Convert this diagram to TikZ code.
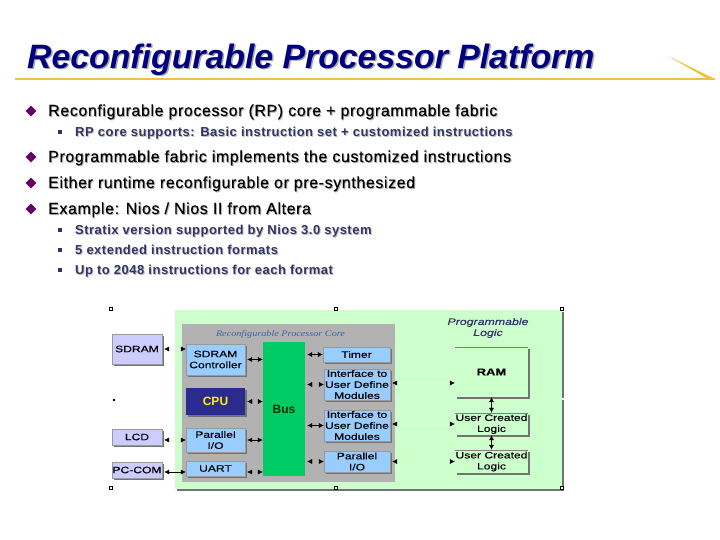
\documentclass[tikz,border=0pt]{standalone}
\usepackage{fontspec}
\setmainfont{Liberation Sans}
\newfontfamily\wideface[FakeStretch=1.3,FakeBold=0.25]{Liberation Sans}
\newfontfamily\coreface[FakeStretch=1.2]{Liberation Serif}
\newfontfamily\mainface[LetterSpace=3.7,FakeBold=0.25]{Liberation Sans}
\newfontfamily\subface[LetterSpace=3.8]{Liberation Sans}
\usetikzlibrary{arrows.meta,shapes.geometric,shadows}
\tikzset{every shadow/.style={fill=black!55,opacity=1,shadow xshift=2pt,shadow yshift=-2pt}}
\definecolor{darkblue}{HTML}{000080}
\definecolor{subblue}{HTML}{333366}
\definecolor{plum}{HTML}{660066}
\definecolor{gold}{HTML}{F0C040}
\definecolor{palegreen}{HTML}{CCFFCC}
\definecolor{skybox}{HTML}{99CCFF}
\definecolor{lavbox}{HTML}{CCCCFF}
\definecolor{corefill}{HTML}{B2B2B2}
\definecolor{busgreen}{HTML}{00CC66}
\definecolor{cpublue}{HTML}{2B2B8F}
\definecolor{corelabelblue}{HTML}{4060A0}
\newcommand{\Stitle}[1]{\rlap{\kern1.5pt\raisebox{-1.5pt}{\textcolor{black!35}{#1}}}\textcolor{darkblue}{#1}}
\newcommand{\Smain}[1]{\rlap{\kern1pt\raisebox{-1pt}{\textcolor{black!30}{#1}}}\textcolor{black}{#1}}
\newcommand{\Ssub}[1]{\rlap{\kern1pt\raisebox{-1pt}{\textcolor{black!25}{#1}}}\textcolor{subblue}{#1}}
\tikzset{
  box/.style={rectangle,draw=none,inner sep=0pt,align=center,drop shadow,
    font=\wideface\fontsize{9.3}{11}\selectfont},
  hardbox/.style={box,fill=lavbox,draw=black!40,line width=0.3pt},
  corebox/.style={box,fill=skybox,draw=black!40,line width=0.3pt},
  logicbox/.style={box,fill=palegreen},
  bigdot/.style={diamond,fill=plum,draw=none,inner sep=0pt,minimum size=11pt},
  smalldot/.style={rectangle,fill=subblue,draw=none,inner sep=0pt,minimum size=4pt},
  mainline/.style={anchor=base west,inner sep=0pt,font=\mainface\fontsize{16}{18}\selectfont},
  subline/.style={anchor=base west,inner sep=0pt,font=\subface\bfseries\fontsize{13}{15}\selectfont},
  handle/.style={rectangle,draw=black,fill=white,line width=0.8pt,inner sep=0pt,minimum width=3.5pt,minimum height=2.5pt},
  tips/.style={{Latex[black,length=5pt,width=5pt]}-{Latex[black,length=5pt,width=5pt]}},
  corefaint/.style={draw=corefill,line width=0.4pt,tips,shorten <=2pt},
  edgefaint/.style={draw=palegreen!70!white,line width=0.4pt,tips,shorten <=2pt},
  solid link/.style={draw=black,line width=0.6pt,tips,shorten <=2pt},
}
\begin{document}
\begin{tikzpicture}[x=1pt,y=-1pt]
\useasboundingbox (0,0) rectangle (720,540);
% title and rule
\node (title) [anchor=base west,inner sep=0pt,font=\bfseries\itshape\fontsize{33.8}{36}\selectfont] at (27,68.5) {\Stitle{Reconfigurable Processor Platform}};
\coordinate (rule1) at (15,79);
\coordinate (rule2) at (715,79);
\coordinate (tip1) at (668,56);
\path (rule1) edge[draw=gold,line width=1.2pt] (rule2);
\fill[gold] (tip1) -- (rule2) -- (708,79) -- cycle;
% bullets
\node (b1) [bigdot] at (31,111) {};
\node (t1) [mainline] at (48,116) {\Smain{Reconfigurable processor (RP) core + programmable fabric}};
\node (b1a) [smalldot] at (59.5,132) {};
\node (t1a) [subline] at (75,136.5) {\Ssub{RP core supports: Basic instruction set + customized instructions}};
\node (b2) [bigdot] at (31,157) {};
\node (t2) [mainline] at (48,162) {\Smain{Programmable fabric implements the customized instructions}};
\node (b3) [bigdot] at (31,183) {};
\node (t3) [mainline] at (48,188) {\Smain{Either runtime reconfigurable or pre-synthesized}};
\node (b4) [bigdot] at (31,209) {};
\node (t4) [mainline] at (48,214) {\Smain{Example: Nios / Nios II from Altera}};
\node (b4a) [smalldot] at (59.5,230) {};
\node (t4a) [subline] at (75,234.5) {\Ssub{Stratix version supported by Nios 3.0 system}};
\node (b4b) [smalldot] at (59.5,250) {};
\node (t4b) [subline] at (75,254.5) {\Ssub{5 extended instruction formats}};
\node (b4c) [smalldot] at (59.5,270) {};
\node (t4c) [subline] at (75,274.5) {\Ssub{Up to 2048 instructions for each format}};
% background panels
\node (fabric) [rectangle,fill=palegreen,draw=none,inner sep=0pt,minimum width=387,minimum height=179,drop shadow] at (368.5,399.5) {};
\node (core) [rectangle,fill=corefill,draw=none,inner sep=0pt,minimum width=213,minimum height=158] at (288.5,403) {};
\node (corelabel) [inner sep=0pt,text=corelabelblue,font=\coreface\itshape\fontsize{8.5}{10}\selectfont] at (280.5,334.5) {Reconfigurable Processor Core};
\node (fabriclabel) [inner sep=0pt,align=center,text=subblue,font=\wideface\itshape\fontsize{9.5}{11}\selectfont] at (488,328) {Programmable\\Logic};
% selection handles
\node (h1) [handle] at (111,309) {};
\node (h2) [handle] at (336,309) {};
\node (h3) [handle] at (562,309) {};
\node (h4) [handle] at (111,488) {};
\node (h5) [handle] at (336,488) {};
\node (h6) [handle] at (562,488) {};
\node (h7) [rectangle,fill=black,inner sep=0pt,minimum size=1.5pt] at (114,400) {};
\node (h8) [rectangle,fill=white,inner sep=0pt,minimum size=2.5pt] at (563,399) {};
% outside devices
\node (sdram) [hardbox,minimum width=50,minimum height=30] at (137,349) {SDRAM};
\node (lcd) [hardbox,minimum width=50,minimum height=16] at (137,437) {LCD};
\node (pccom) [hardbox,minimum width=50,minimum height=16] at (137,470) {PC-COM};
% core blocks
\node (ctrl) [corebox,minimum width=59,minimum height=31] at (215.5,359.5) {SDRAM\\Controller};
\node (cpu) [box,fill=cpublue,text=yellow,minimum width=59,minimum height=27,font=\bfseries\fontsize{12}{14}\selectfont] at (215.5,401.5) {CPU};
\node (pio) [corebox,minimum width=59,minimum height=24] at (215.5,440) {Parallel\\I/O};
\node (uart) [corebox,minimum width=59,minimum height=15] at (215.5,468.5) {UART};
\node (bus) [rectangle,fill=busgreen,draw=none,inner sep=0pt,minimum width=42,minimum height=134,text=black!80!green,font=\bfseries\fontsize{12}{14}\selectfont] at (284,409) {Bus};
\node (timer) [corebox,minimum width=67,minimum height=15] at (356.5,354.5) {Timer};
\node (iface1) [corebox,minimum width=66,minimum height=31] at (357,384.5) {Interface to\\User Define\\Modules};
\node (iface2) [corebox,minimum width=66,minimum height=31] at (357,425.5) {Interface to\\User Define\\Modules};
\node (pio2) [corebox,minimum width=66,minimum height=21] at (357,461.5) {Parallel\\I/O};
% fabric blocks
\node (ram) [logicbox,minimum width=73,minimum height=50,font=\wideface\bfseries\fontsize{10}{12}\selectfont] at (491.5,372) {RAM};
\node (ucl1) [logicbox,minimum width=73,minimum height=22] at (491.5,424) {User Created\\Logic};
\node (ucl2) [logicbox,minimum width=73,minimum height=23] at (491.5,461.5) {User Created\\Logic};
\path (ram.north west) edge[draw=black!50,line width=0.5pt] (ram.north east);
\path (ucl1.north west) edge[draw=black!50,line width=0.5pt] (ucl1.north east);
\path (ucl2.north west) edge[draw=black!50,line width=0.5pt] (ucl2.north east);
%
\path (sdram.east) edge[edgefaint] (sdram.east -| ctrl.west);
\path (pio.west -| lcd.east) edge[edgefaint] (pio.west);
\path ([yshift=-2pt]pccom.east) edge[solid link] ([yshift=-2pt]pccom.east -| uart.west);
\path (ctrl.east) edge[solid link] (ctrl.east -| bus.west);
\path (cpu.east) edge[corefaint] (cpu.east -| bus.west);
\path (pio.east) edge[solid link] (pio.east -| bus.west);
\path ([yshift=-3.5pt]uart.east) edge[corefaint] ([yshift=-3.5pt]uart.east -| bus.west);
\path (timer.west -| bus.east) edge[solid link] (timer.west);
\path (iface1.west -| bus.east) edge[corefaint] (iface1.west);
\path (iface2.west -| bus.east) edge[solid link] (iface2.west);
\path (pio2.west -| bus.east) edge[corefaint] (pio2.west);
\path ([yshift=1.5pt]iface1.east) edge[edgefaint] ([yshift=1.5pt]iface1.east -| ram.west);
\path (iface2.east |- ucl1.west) edge[edgefaint] (ucl1.west);
\path (pio2.east) edge[edgefaint] (pio2.east -| ucl2.west);
\path (ram.south) edge[solid link,shorten <=0pt] (ucl1.north);
\path (ucl1.south) edge[solid link,shorten <=0pt] (ucl2.north);
\end{tikzpicture}
\end{document}
